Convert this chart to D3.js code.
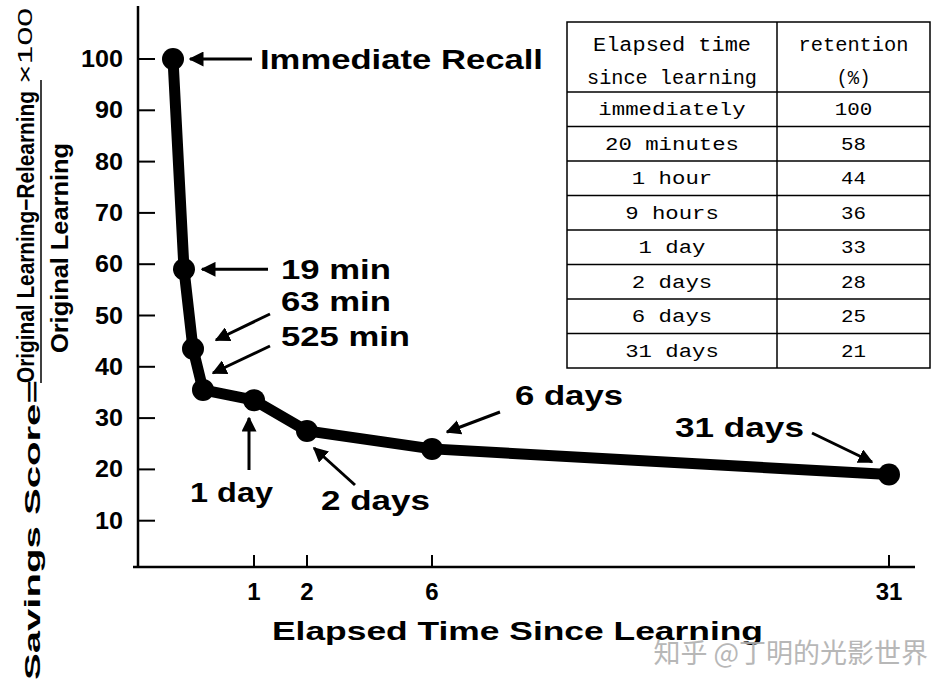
<!DOCTYPE html>
<html><head><meta charset="utf-8">
<script src="https://cdn.jsdelivr.net/npm/d3@7"></script>
<style>body{margin:0;background:#fff}</style></head>
<body><svg id="c" width="950" height="689"></svg>
<script>
const labels = ["0","19 min","63 min","525 min","1 day","2 days","6 days","31 days"];
const times = [0, 19/1440, 63/1440, 525/1440, 1, 2, 6, 31]; // days
const scores = [100, 59, 43.5, 35.5, 33.5, 27.5, 24, 19];
const yTicks = [10,20,30,40,50,60,70,80,90,100];
const xTicks = [1,2,6,31];
const tableTimes = ["immediately","20 minutes","1 hour","9 hours","1 day","2 days","6 days","31 days"];
const tableRet = [100,58,44,36,33,28,25,21];

const svg = d3.select("#c");
const y = d3.scaleLinear().domain([0,100]).range([572,59]);
// schematic, piecewise axis as in the original figure
const x = d3.scaleLinear().domain(times).range([173,184,193,203,254,307,432,889]);

const F = "'Liberation Sans', Arial, sans-serif";
const TM = "'Liberation Mono','DejaVu Sans Mono',monospace";
function T(g,xx,yy,s,fs,len,anchor,rot,opts){
  opts=opts||{};
  const t=g.append("text").attr("font-family",opts.font||F).attr("font-weight",opts.weight||"bold").attr("font-size",fs).attr("text-anchor",anchor||"start").text(s);
  let sc=1;
  if(len){const w=t.node().getComputedTextLength(); sc=len/w;}
  t.attr("transform",`translate(${xx},${yy})`+(rot?" rotate(-90)":"")+` scale(${sc},1)`);
  return t;
}
svg.append("line").attr("x1",138).attr("x2",138).attr("y1",6).attr("y2",568).attr("stroke","#000").attr("stroke-width",2.5);
svg.append("line").attr("x1",133).attr("x2",915).attr("y1",567).attr("y2",567).attr("stroke","#000").attr("stroke-width",2.5);
yTicks.forEach(t=>{
  svg.append("line").attr("x1",138).attr("x2",155).attr("y1",y(t)).attr("y2",y(t)).attr("stroke","#000").attr("stroke-width",2);
  T(svg,123,y(t)+8,t,23,t===100?42:28,"end");
});
xTicks.forEach(t=>{
  svg.append("line").attr("x1",x(t)).attr("x2",x(t)).attr("y1",555).attr("y2",567).attr("stroke","#000").attr("stroke-width",2);
  T(svg,x(t),600,t,24,null,"middle");
});
T(svg,272,640,"Elapsed Time Since Learning",26,491);

T(svg,40,680,"Savings Score=",22,300,"start",true);
T(svg,34,383,"Original Learning\u2212Relearning",24,292,"start",true);
svg.append("line").attr("x1",41).attr("x2",41).attr("y1",383).attr("y2",80).attr("stroke","#000").attr("stroke-width",1.5);
T(svg,68,353,"Original Learning",24,210,"start",true);
T(svg,32,84,"\u00d7100",20,76,"start",true,{weight:"normal"});

const pts = times.map((t,i)=>[x(t), y(scores[i])]);
svg.append("path").attr("d", d3.line()(pts)).attr("fill","none").attr("stroke","#000").attr("stroke-width",11).attr("stroke-linejoin","round").attr("stroke-linecap","round");
svg.selectAll("circle.p").data(pts).join("circle").attr("cx",d=>d[0]).attr("cy",d=>d[1]).attr("r",11).attr("fill","#000");

svg.append("defs").append("marker").attr("id","ah").attr("viewBox","0 0 10 10").attr("refX",9).attr("refY",5).attr("markerWidth",5).attr("markerHeight",5).attr("orient","auto")
  .append("path").attr("d","M0,0 L10,5 L0,10 z").attr("fill","#000");
function arrow(x1,y1,x2,y2){svg.append("line").attr("x1",x1).attr("y1",y1).attr("x2",x2).attr("y2",y2).attr("stroke","#000").attr("stroke-width",3).attr("marker-end","url(#ah)");}
arrow(252,y(100),190,y(100)); T(svg,260,y(100)+10,"Immediate Recall",28,283);
arrow(268,y(59),202,y(59)); T(svg,281,y(59)+10,labels[1],27,110);
arrow(270,314,216,340); T(svg,281,311,labels[2],27,110);
arrow(270,346,213,373); T(svg,281,346,labels[3],27,129);
arrow(249,470,249,418); T(svg,190,502,labels[4],27,83);
arrow(355,485,314,448); T(svg,321,510,labels[5],27,109);
arrow(500,412,447,432); T(svg,515,405,labels[6],27,108);
arrow(812,433,872,462); T(svg,675,437,labels[7],27,129);

const tx0=567, tx1=930, tm=777, ty0=22, th=70, rh=34.5;
const tg = svg.append("g");
const rows = tableTimes.length;
tg.append("rect").attr("x",tx0).attr("y",ty0).attr("width",tx1-tx0).attr("height",th+rows*rh).attr("fill","#fff").attr("stroke","#000").attr("stroke-width",1.5);
tg.append("line").attr("x1",tm).attr("x2",tm).attr("y1",ty0).attr("y2",ty0+th+rows*rh).attr("stroke","#000").attr("stroke-width",1.5);
const mono={font:TM,weight:"normal"};
for(let i=0;i<rows;i++){
  const yy=ty0+th+i*rh;
  tg.append("line").attr("x1",tx0).attr("x2",tx1).attr("y1",yy).attr("y2",yy).attr("stroke","#000").attr("stroke-width",1.5);
  T(tg,(tx0+tm)/2,yy+rh/2+6,tableTimes[i],18,tableTimes[i].length*13.4,"middle",false,mono);
  T(tg,(tm+tx1)/2,yy+rh/2+6,tableRet[i],18,String(tableRet[i]).length*12.5,"middle",false,mono);
}
[["Elapsed time",(tx0+tm)/2,51,158],["since learning",(tx0+tm)/2,84,170],["retention",(tm+tx1)/2,51,110],["(%)",(tm+tx1)/2,84,34]].forEach(d=>{
  T(tg,d[1],d[2],d[0],20,d[3],"middle",false,mono);
});
svg.append("text").attr("x",928).attr("y",663).attr("text-anchor","end").attr("font-family","'Noto Sans CJK SC'").attr("font-size",27).attr("fill","#b0b0b0").attr("opacity",0.9).text("知乎 @丁明的光影世界");
</script></body></html>
